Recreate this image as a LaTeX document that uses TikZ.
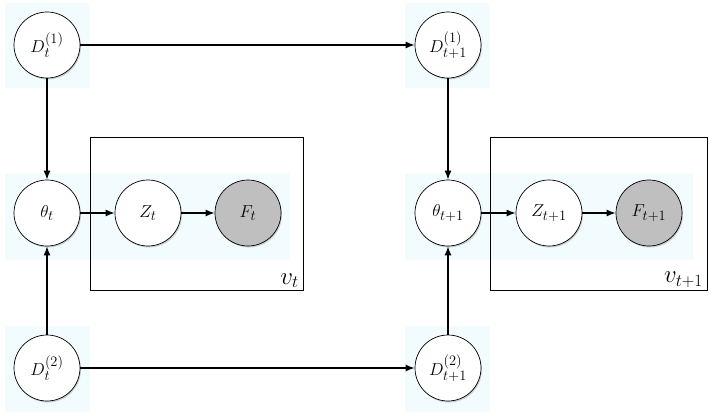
\documentclass[tikz,border=0pt]{standalone}
\usetikzlibrary{shadows,arrows.meta}
\begin{document}
\begin{tikzpicture}[x=1pt,y=-1pt,
  v/.style={circle,draw=black,line width=0.7pt,fill=white,minimum size=66pt,inner sep=0pt,font=\fontsize{19}{22}\selectfont,drop shadow={shadow xshift=1pt,shadow yshift=-1.5pt,opacity=0.35}},
  obs/.style={v,fill=black!25},
  bg/.style={fill=cyan!5,draw=none},
  arr/.style={-{Latex[length=9pt,width=7pt]},line width=1.3pt},
  plate/.style={draw=black,line width=1pt}]
\useasboundingbox (0,0) rectangle (710,418);
\fill[white] (0,0) rectangle (710,418);
% backgrounds
\fill[bg] (5,3) rectangle (90,88);
\fill[bg] (5,173) rectangle (290,260);
\fill[bg] (5,326) rectangle (90,412);
\fill[bg] (405,3) rectangle (490,88);
\fill[bg] (405,173) rectangle (693,260);
\fill[bg] (405,326) rectangle (490,412);
% plates
\draw[plate] (90,137) rectangle (303,290);
\draw[plate] (490,137) rectangle (707,290);
\node[font=\fontsize{26}{30}\selectfont,anchor=south east,inner sep=2pt] (vt) at (301,290) {$v_t$};
\node[font=\fontsize{26}{30}\selectfont,anchor=south east,inner sep=2pt] (vt1) at (705,290) {$v_{t+1}$};
% nodes
\node[v] (d1) at (47,45) {$D_t^{(1)}$};
\node[v] (th) at (47,213) {$\theta_t$};
\node[v] (z) at (148,213) {$Z_t$};
\node[obs] (f) at (248,213) {$F_t$};
\node[v] (d2) at (47,368) {$D_t^{(2)}$};
\node[v] (e1) at (448,45) {$D_{t+1}^{(1)}$};
\node[v] (th1) at (448,213) {$\theta_{t+1}$};
\node[v] (z1) at (549,213) {$Z_{t+1}$};
\node[obs] (f1) at (649,213) {$F_{t+1}$};
\node[v] (e2) at (448,368) {$D_{t+1}^{(2)}$};
% edges
\draw[arr] (d1) -- (e1);
\draw[arr] (d2) -- (e2);
\draw[arr] (d1) -- (th);
\draw[arr] (d2) -- (th);
\draw[arr] (e1) -- (th1);
\draw[arr] (e2) -- (th1);
\draw[arr] (th) -- (z);
\draw[arr] (z) -- (f);
\draw[arr] (th1) -- (z1);
\draw[arr] (z1) -- (f1);
\end{tikzpicture}
\end{document}
